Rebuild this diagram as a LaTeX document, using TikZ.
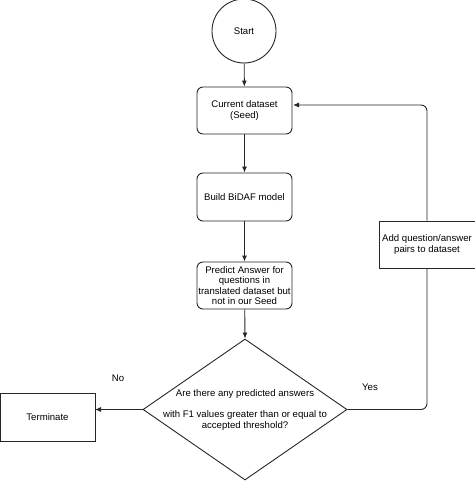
\documentclass[tikz,border=0pt]{standalone}
\usepackage{fontspec}
\setmainfont{Liberation Sans}
\usetikzlibrary{shapes.geometric,arrows.meta}
\begin{document}
\begin{tikzpicture}[x=1pt,y=-1pt,
  every node/.style={font=\fontsize{9.6}{10.6}\selectfont, inner sep=0pt},
  conn/.style={draw=black!85, line width=0.9pt},
  arr/.style={conn, -{Latex[length=6pt,width=5pt]}},
  roundbox/.style={draw=black!85, line width=0.9pt, rounded corners=6pt, minimum width=95pt, minimum height=47pt, align=center, fill=white},
  sqbox/.style={draw=black!85, line width=0.9pt, minimum height=47pt, align=center, fill=white},
  decision/.style={draw=black!85, line width=0.9pt, diamond, minimum width=204pt, minimum height=141pt}
]
\useasboundingbox (0,0) rectangle (474,481);
\node[circle, draw=black!85, line width=0.9pt, minimum size=64pt] (start) at (244,31) {Start};
\node[roundbox] (cur) at (244.5,110.5) {Current dataset\\(Seed)};
\node[roundbox, minimum height=48pt] (build) at (244.5,197) {Build BiDAF model};
\node[roundbox] (pred) at (244.5,285.5) {Predict Answer for\\questions in\\translated dataset but\\not in our Seed};
\node[decision] (dia) at (245,409.5) {};
\node[align=center] (dtext) at (245,410) {Are there any predicted answers\\[10pt]with F1 values greater than or equal to\\accepted threshold?};
\node[sqbox, minimum width=95pt, minimum height=48pt] (term) at (47.5,417) {Terminate};
\node[sqbox, minimum width=96pt] (add) at (427,244.5) {Add question/answer\\pairs to dataset};
\node (no) at (118,378) {No};
\node (yes) at (370,387) {Yes};
\coordinate (curin) at (293,105);
\coordinate (termin) at (95,410);
\draw[arr] (start) -- (cur);
\draw[arr] (cur) -- (build);
\draw[arr] (build) -- (pred);
\draw[arr] (pred) -- (dia.north);
\draw[arr] (dia.west) -- (dia.west -| termin);
\draw[conn, rounded corners=6pt] (dia.east) -| (add.south);
\draw[arr, rounded corners=6pt] (add.north) |- (curin);
\end{tikzpicture}
\end{document}
